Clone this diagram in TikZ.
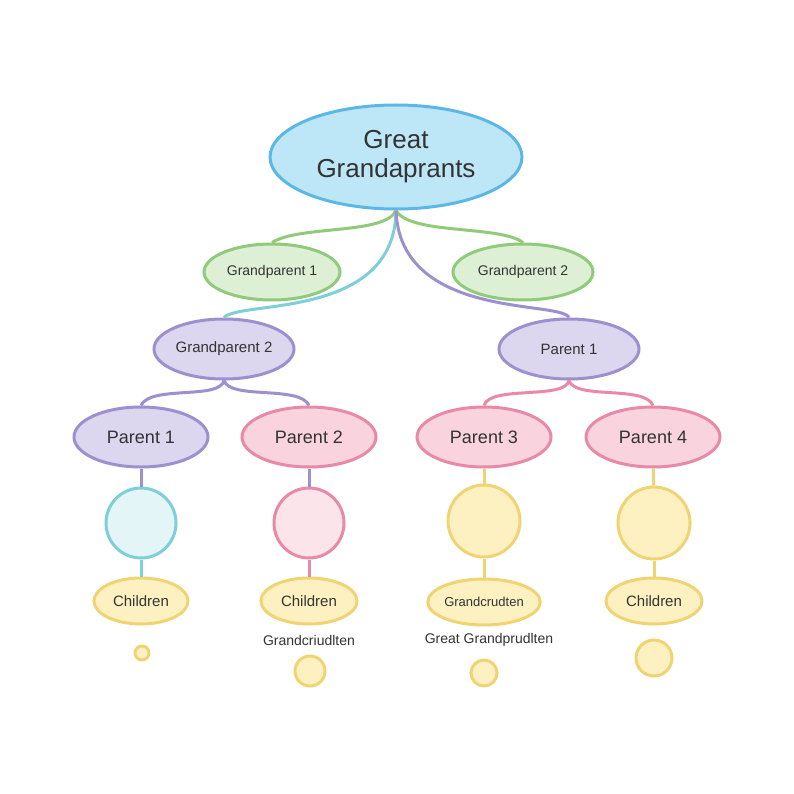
\documentclass[tikz,border=0pt]{standalone}
\usepackage{fontspec}
\setmainfont{Liberation Sans}
\usetikzlibrary{shapes.geometric}
\definecolor{bF}{HTML}{BDE6F7}\definecolor{bS}{HTML}{5BB8E6}
\definecolor{gF}{HTML}{DDF0D5}\definecolor{gS}{HTML}{8FCB7A}
\definecolor{vF}{HTML}{DCD6EE}\definecolor{vS}{HTML}{9E90CF}
\definecolor{pF}{HTML}{F9D3DD}\definecolor{pS}{HTML}{E889A8}
\definecolor{cF}{HTML}{E3F5F7}\definecolor{cS}{HTML}{7DCFD8}
\definecolor{yF}{HTML}{FDF1C2}\definecolor{yS}{HTML}{F0D474}
\definecolor{tx}{HTML}{333333}
\begin{document}
\begin{tikzpicture}[x=1pt,y=-1pt,
 el/.style={ellipse,line width=3pt,inner sep=0pt,text=tx},
 ci/.style={circle,line width=3pt,inner sep=0pt},
 ln/.style={line width=3pt}]
\useasboundingbox[fill=white] (0,0) rectangle (794,794);
\node[el,fill=bF,draw=bS,minimum width=252pt,minimum height=104pt,font=\fontsize{26}{29}\selectfont,align=center] (top) at (396,157) {Great\\Grandaprants};
\node[el,fill=gF,draw=gS,minimum width=136pt,minimum height=56pt,font=\fontsize{14}{16}\selectfont] (g1) at (272,272) {Grandparent 1};
\node[el,fill=gF,draw=gS,minimum width=140pt,minimum height=56pt,font=\fontsize{14}{16}\selectfont] (g2) at (523,272) {Grandparent 2};
\node[el,fill=vF,draw=vS,minimum width=140pt,minimum height=60pt,font=\fontsize{15}{17}\selectfont] (v2) at (224,349) {Grandparent 2};
\node[el,fill=vF,draw=vS,minimum width=140pt,minimum height=60pt,font=\fontsize{15}{17}\selectfont] (v1) at (569,349) {Parent 1};
\node[el,fill=vF,draw=vS,minimum width=134pt,minimum height=60pt,font=\fontsize{18}{20}\selectfont] (p1) at (141,437) {Parent 1};
\node[el,fill=pF,draw=pS,minimum width=134pt,minimum height=60pt,font=\fontsize{18}{20}\selectfont] (p2) at (309,437) {Parent 2};
\node[el,fill=pF,draw=pS,minimum width=134pt,minimum height=60pt,font=\fontsize{18}{20}\selectfont] (p3) at (484,437) {Parent 3};
\node[el,fill=pF,draw=pS,minimum width=134pt,minimum height=60pt,font=\fontsize{18}{20}\selectfont] (p4) at (653,437) {Parent 4};
\node[ci,fill=cF,draw=cS,minimum size=70pt] (c1) at (141,523) {};
\node[ci,fill=pF!60,draw=pS,minimum size=70pt] (c2) at (309,523) {};
\node[ci,fill=yF,draw=yS,minimum size=72pt] (c3) at (484,521) {};
\node[ci,fill=yF,draw=yS,minimum size=72pt] (c4) at (654,523) {};
\node[el,fill=yF,draw=yS,minimum width=94pt,minimum height=46pt,font=\fontsize{15}{17}\selectfont] (k1) at (141,601) {Children};
\node[el,fill=yF,draw=yS,minimum width=96pt,minimum height=46pt,font=\fontsize{15}{17}\selectfont] (k2) at (309,601) {Children};
\node[el,fill=yF,draw=yS,minimum width=94pt,minimum height=46pt,font=\fontsize{13}{15}\selectfont] (k3) at (484,602) {Grandcrudten};
\node[el,fill=yF,draw=yS,minimum width=96pt,minimum height=46pt,font=\fontsize{15}{17}\selectfont] (k4) at (654,601) {Children};
\node[text=tx,font=\fontsize{14}{16}\selectfont] (t1) at (309,640) {Grandcriudlten};
\node[text=tx,font=\fontsize{14}{16}\selectfont] (t2) at (489,640) {Great Grandprudlten};
\node[ci,fill=yF,draw=yS,minimum size=14pt] (s1) at (142,653) {};
\node[ci,fill=yF,draw=yS,minimum size=30pt] (s2) at (310,671) {};
\node[ci,fill=yF,draw=yS,minimum size=26pt] (s3) at (484,673) {};
\node[ci,fill=yF,draw=yS,minimum size=36pt] (s4) at (654,658) {};
\draw[ln,gS] (top.south) .. controls (385,235) and (300,225) .. (g1.north);
\draw[ln,gS] (top.south) .. controls (410,235) and (500,225) .. (g2.north);
\draw[ln,cS] (top.south) .. controls (395,320) and (240,300) .. (v2.north);
\draw[ln,vS] (top.south) .. controls (400,320) and (560,300) .. (v1.north);
\draw[ln,vS] (v2.south) .. controls (220,400) and (150,385) .. (p1.north);
\draw[ln,vS] (v2.south) .. controls (230,400) and (300,385) .. (p2.north);
\draw[ln,pS] (v1.south) .. controls (565,400) and (490,385) .. (p3.north);
\draw[ln,pS] (v1.south) .. controls (575,400) and (645,385) .. (p4.north);
\draw[ln,vS] (p1) -- (c1); \draw[ln,cS] (c1) -- (k1);
\draw[ln,vS] (p2) -- (c2); \draw[ln,pS] (c2) -- (k2);
\draw[ln,yS] (p3) -- (c3); \draw[ln,yS] (c3) -- (k3);
\draw[ln,yS] (p4) -- (c4); \draw[ln,yS] (c4) -- (k4);
\end{tikzpicture}
\end{document}
